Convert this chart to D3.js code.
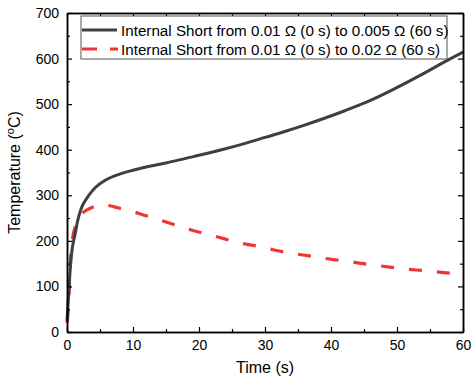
<!DOCTYPE html>
<html><head><meta charset="utf-8">
<script src="https://cdn.jsdelivr.net/npm/d3@7"></script>
<style>body{margin:0;background:#fff;}svg{display:block;font-family:Arial,"Liberation Sans",sans-serif;}</style>
</head><body>
<svg id="c" width="474" height="379"></svg>
<script>
const blackT = [0, 0.2, 0.45, 0.76, 1.0, 1.26, 1.5, 1.77, 2.27, 2.8, 3.3, 4.3, 5.8, 8.3, 10, 12, 15, 18, 21, 24, 27, 30, 33, 36, 39, 42, 45, 48, 51, 54, 57, 60];
const blackV = [25, 70, 130, 180, 200, 217, 236, 253, 275, 289, 300, 317, 333, 348, 355, 362, 371, 381, 391, 402, 414, 427, 440, 454, 469, 485, 502, 522, 544, 567, 591, 614];
const redT = [0, 0.2, 0.5, 0.8, 1.0, 1.26, 1.5, 1.77, 2.2, 2.7, 3.3, 4.3, 5.3, 6.5, 7.8, 9.8, 12, 14, 16.4, 18.3, 20.6, 22.7, 25, 27, 29.4, 31.4, 33.8, 35.8, 38, 40.3, 42.6, 44.9, 47, 49.2, 51.5, 53.8, 56, 58.2, 60];
const redV = [20, 50, 150, 200, 218, 231, 240, 248, 258, 265, 270, 276, 279, 277, 272, 265, 255, 246, 235, 226, 217, 209, 200, 193, 187, 180, 173, 169, 164, 159, 155, 150, 146, 142, 138, 135, 132, 129, 127];
const xTicks = [0, 10, 20, 30, 40, 50, 60];
const yTicks = [0, 100, 200, 300, 400, 500, 600, 700];
const legendLabels = ["Internal Short from 0.01 \u03A9 (0 s) to 0.005 \u03A9 (60 s)", "Internal Short from 0.01 \u03A9 (0 s) to 0.02 \u03A9 (60 s)"];

const L = 67, R = 463, T = 13, B = 332;
const svg = d3.select("#c");
const x = d3.scaleLinear().domain([0, 60]).range([L, R]);
const y = d3.scaleLinear().domain([0, 700]).range([B, T]);

const xMinor = d3.range(5, 60, 10);
const yMinor = d3.range(50, 700, 100);

const line = d3.line().x(d => x(d[0])).y(d => y(d[1])).curve(d3.curveMonotoneX);
svg.append("path").datum(redT.map((t, i) => [t, redV[i]])).attr("d", line)
  .attr("fill", "none").attr("stroke", "#ef3535").attr("stroke-width", 3.2).attr("stroke-dasharray", "13,15");
svg.append("path").datum(blackT.map((t, i) => [t, blackV[i]])).attr("d", line)
  .attr("fill", "none").attr("stroke", "#3f3f3f").attr("stroke-width", 3);

const ax = [
  [d3.axisBottom(x).tickValues(xTicks).tickSizeInner(-5).tickSizeOuter(0).tickPadding(8), `translate(0,${B})`],
  [d3.axisBottom(x).tickValues(xMinor).tickSizeInner(-3).tickSizeOuter(0).tickFormat(""), `translate(0,${B})`],
  [d3.axisTop(x).tickValues(xTicks).tickSizeInner(-5).tickSizeOuter(0).tickFormat(""), `translate(0,${T})`],
  [d3.axisTop(x).tickValues(xMinor).tickSizeInner(-3).tickSizeOuter(0).tickFormat(""), `translate(0,${T})`],
  [d3.axisLeft(y).tickValues(yTicks).tickSizeInner(-5).tickSizeOuter(0).tickPadding(8), `translate(${L},0)`],
  [d3.axisLeft(y).tickValues(yMinor).tickSizeInner(-3).tickSizeOuter(0).tickFormat(""), `translate(${L},0)`],
  [d3.axisRight(y).tickValues(yTicks).tickSizeInner(-5).tickSizeOuter(0).tickFormat(""), `translate(${R},0)`],
  [d3.axisRight(y).tickValues(yMinor).tickSizeInner(-3).tickSizeOuter(0).tickFormat(""), `translate(${R},0)`]
];
ax.forEach(([a, tr]) => {
  const gg = svg.append("g").attr("transform", tr).call(a);
  gg.selectAll(".domain").attr("stroke", "#000").attr("stroke-width", 1.5);
  gg.selectAll(".tick line").attr("stroke", "#000").attr("stroke-width", 1.2);
  gg.selectAll("text").attr("font-size", 14).attr("fill", "#000").attr("font-family", "Arial, 'Liberation Sans', sans-serif");
});

svg.append("text").attr("x", (L + R) / 2).attr("y", 373).attr("text-anchor", "middle")
  .attr("font-size", 16).text("Time (s)");
const yt = svg.append("text").attr("transform", `translate(20,${(T + B) / 2}) rotate(-90)`)
  .attr("text-anchor", "middle").attr("font-size", 16);
yt.append("tspan").text("Temperature (");
yt.append("tspan").attr("font-size", 11).attr("dy", -6).text("o");
yt.append("tspan").attr("dy", 6).text("C)");

const lg = svg.append("g");
lg.append("rect").attr("x", 81).attr("y", 16).attr("width", 366).attr("height", 43)
  .attr("fill", "#fff").attr("stroke", "#555").attr("stroke-width", 1);
const ly = [30, 49];
lg.append("line").attr("x1", 82).attr("x2", 117).attr("y1", ly[0]).attr("y2", ly[0])
  .attr("stroke", "#3f3f3f").attr("stroke-width", 3);
lg.append("line").attr("x1", 82).attr("x2", 118).attr("y1", ly[1]).attr("y2", ly[1])
  .attr("stroke", "#ef3535").attr("stroke-width", 3.2).attr("stroke-dasharray", "15,13");
legendLabels.forEach((s, i) => {
  lg.append("text").attr("x", 121).attr("y", ly[i] + 5.5).attr("font-size", 15.2).attr("fill", "#000").text(s);
});
</script>
</body></html>
